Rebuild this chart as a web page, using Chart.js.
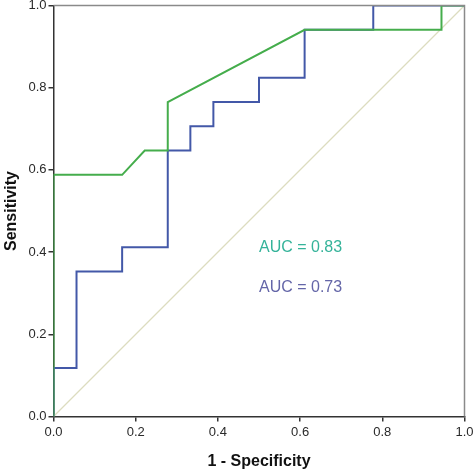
<!DOCTYPE html>
<html>
<head>
<meta charset="utf-8">
<script src="https://cdn.jsdelivr.net/npm/chart.js@4"></script>
<style>
  html, body { margin: 0; padding: 0; background: #fff; }
  #wrap { width: 474px; height: 471px; }
</style>
</head>
<body>
<div id="wrap"><canvas id="Chart" width="474" height="471"></canvas></div>
<script>
// ROC curves, 1 - specificity on x, sensitivity on y
let greenFpr = [0, 0, 0.167, 0.222, 0.278, 0.278, 0.611, 0.944, 0.944, 1.0];
let greenTpr = [0, 0.588, 0.588, 0.647, 0.647, 0.765, 0.941, 0.941, 1.0, 1.0];

let blueFpr = [0, 0, 0.056, 0.056, 0.167, 0.167, 0.278, 0.278, 0.333, 0.333, 0.389, 0.389, 0.5, 0.5, 0.611, 0.611, 0.778, 0.778, 1.0];
let blueTpr = [0, 0.118, 0.118, 0.353, 0.353, 0.412, 0.412, 0.647, 0.647, 0.706, 0.706, 0.765, 0.765, 0.824, 0.824, 0.941, 0.941, 1.0, 1.0];

let refX = [0, 1];
let refY = [0, 1];

let tickValues = [0, 0.2, 0.4, 0.6, 0.8, 1.0];

let aucLabels = ["AUC = 0.83", "AUC = 0.73"];
let aucColors = ['#35b39a', '#6466a8'];
let aucX = [0.5, 0.5];
let aucY = [0.41, 0.313];

function toPoints(xs, ys) {
    return xs.map(function (x, i) { return {x: x, y: ys[i]}; });
}

let font = "'Liberation Sans', Arial, sans-serif";

let framePlugin = {
    id: 'frame',
    afterDatasetsDraw: function (chart) {
        let ctx = chart.ctx;
        let a = chart.chartArea;
        ctx.save();
        ctx.strokeStyle = '#8a8a8a';
        ctx.lineWidth = 1.5;
        ctx.beginPath();
        ctx.moveTo(a.left, a.top);
        ctx.lineTo(a.right, a.top);
        ctx.lineTo(a.right, a.bottom);
        ctx.stroke();

        ctx.font = '16px ' + font;
        ctx.textAlign = 'left';
        ctx.textBaseline = 'middle';
        aucLabels.forEach(function (t, i) {
            ctx.fillStyle = aucColors[i];
            ctx.fillText(t, chart.scales.x.getPixelForValue(aucX[i]), chart.scales.y.getPixelForValue(aucY[i]));
        });
        ctx.restore();
    }
};

let config = {
    type: 'scatter',
    data: {
        datasets: [{
            label: "AUC 0.83",
            data: toPoints(greenFpr, greenTpr),
            borderColor: '#45ad4c',
            backgroundColor: '#45ad4c',
            borderWidth: 2,
            showLine: true,
            pointRadius: 0,
            order: 1
        }, {
            label: "AUC 0.73",
            data: toPoints(blueFpr, blueTpr),
            borderColor: '#4358a8',
            backgroundColor: '#4358a8',
            borderWidth: 2,
            showLine: true,
            pointRadius: 0,
            order: 2
        }, {
            label: "Reference",
            data: toPoints(refX, refY),
            borderColor: '#dcdcc0',
            backgroundColor: '#dcdcc0',
            borderWidth: 1.2,
            showLine: true,
            pointRadius: 0,
            order: 3
        }]
    },
    options: {
        responsive: false,
        animation: false,
        layout: { padding: { top: 5.5, right: 9.5, left: 0, bottom: 0 } },
        plugins: {
            legend: { display: false },
            tooltip: { enabled: false }
        },
        scales: {
            x: {
                type: 'linear',
                min: 0,
                max: 1,
                afterBuildTicks: function (axis) {
                    axis.ticks = tickValues.map(function (v) { return {value: v}; });
                },
                afterFit: function (axis) {
                    axis.height = 54.5;
                    axis.paddingLeft = 0;
                    axis.paddingRight = 0;
                },
                grid: { drawOnChartArea: false, drawTicks: true, tickLength: 5, color: '#333', lineWidth: 1.5 },
                border: { color: '#333', width: 1.5 },
                ticks: {
                    color: '#2a2a2a',
                    padding: 3,
                    maxRotation: 0,
                    font: { family: font, size: 13 },
                    callback: function (v) { return Number(v).toFixed(1); }
                },
                title: {
                    display: true,
                    text: '1 - Specificity',
                    color: '#111',
                    font: { family: font, size: 16, weight: 'bold' },
                    padding: { top: 8, bottom: 0 }
                }
            },
            y: {
                type: 'linear',
                min: 0,
                max: 1,
                afterBuildTicks: function (axis) {
                    axis.ticks = tickValues.map(function (v) { return {value: v}; });
                },
                afterFit: function (axis) {
                    axis.width = 53.5;
                    axis.paddingTop = 0;
                    axis.paddingBottom = 0;
                },
                grid: { drawOnChartArea: false, drawTicks: true, tickLength: 5, color: '#333', lineWidth: 1.5 },
                border: { color: '#333', width: 1.5 },
                ticks: {
                    color: '#2a2a2a',
                    padding: 2,
                    font: { family: font, size: 13 },
                    callback: function (v) { return Number(v).toFixed(1); }
                },
                title: {
                    display: true,
                    text: 'Sensitivity',
                    color: '#111',
                    font: { family: font, size: 16, weight: 'bold' },
                    padding: { top: 2, bottom: 2 }
                }
            }
        }
    },
    plugins: [framePlugin]
};

window.onload = function () {
    let ctx = document.getElementById("Chart").getContext('2d');
    window.myLine = new Chart(ctx, config);
};
</script>
</body>
</html>
